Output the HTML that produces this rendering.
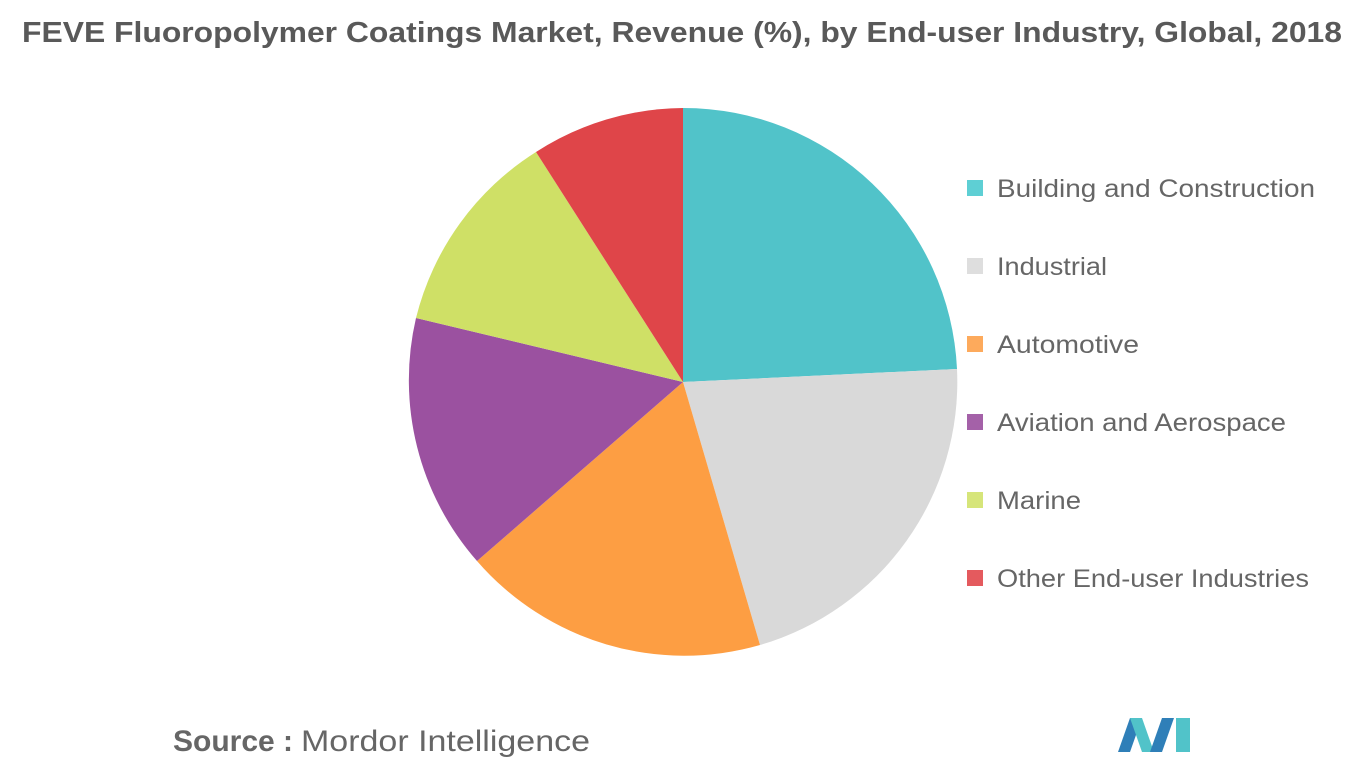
<!DOCTYPE html>
<html><head><meta charset="utf-8"><style>
body{margin:0;width:1366px;height:768px;background:#fff;overflow:hidden;font-family:"Liberation Sans",sans-serif;}
</style></head><body>
<svg width="1366" height="768" xmlns="http://www.w3.org/2000/svg">
<text x="22" y="42" textLength="1320" lengthAdjust="spacingAndGlyphs" font-family="Liberation Sans, sans-serif" font-weight="bold" font-size="29" fill="#595959">FEVE Fluoropolymer Coatings Market, Revenue (%), by End-user Industry, Global, 2018</text>
<g>
<path d="M683,382 L683,108 A274,274 0 0 1 957,369 Z" fill="#51c3c9"/>
<path d="M683,382 L957,369 A274,274 0 0 1 760,645 Z" fill="#d9d9d9"/>
<path d="M683,382 L760,645 A274,274 0 0 1 477,561 Z" fill="#fd9e43"/>
<path d="M683,382 L477,561 A274,274 0 0 1 416,318 Z" fill="#9b51a0"/>
<path d="M683,382 L416,318 A274,274 0 0 1 536,152 Z" fill="#cfe066"/>
<path d="M683,382 L536,152 A274,274 0 0 1 683,108 Z" fill="#df4549"/>
</g>
<g font-family="Liberation Sans, sans-serif" font-size="25" fill="#666" lengthAdjust="spacingAndGlyphs">
<rect x="967" y="180" width="16" height="16" fill="#5ecfd4"/><text x="997" y="197" textLength="318" lengthAdjust="spacingAndGlyphs">Building and Construction</text>
<rect x="967" y="258" width="16" height="16" fill="#dedede"/><text x="997" y="275" textLength="110" lengthAdjust="spacingAndGlyphs">Industrial</text>
<rect x="967" y="336" width="16" height="16" fill="#fdaa5c"/><text x="997" y="353" textLength="142" lengthAdjust="spacingAndGlyphs">Automotive</text>
<rect x="967" y="414" width="16" height="16" fill="#a461a8"/><text x="997" y="431" textLength="289" lengthAdjust="spacingAndGlyphs">Aviation and Aerospace</text>
<rect x="967" y="492" width="16" height="16" fill="#d6e57a"/><text x="997" y="509" textLength="84" lengthAdjust="spacingAndGlyphs">Marine</text>
<rect x="967" y="570" width="16" height="16" fill="#e45a5e"/><text x="997" y="587" textLength="312" lengthAdjust="spacingAndGlyphs">Other End-user Industries</text>
</g>
<text x="173" y="751" font-family="Liberation Sans, sans-serif" font-size="30" fill="#666" font-weight="bold">Source :</text>
<text x="301" y="751" textLength="289" lengthAdjust="spacingAndGlyphs" font-family="Liberation Sans, sans-serif" font-size="30" fill="#666">Mordor Intelligence</text>
<g>
<polygon points="1118,752 1130,718 1142,718 1130,752" fill="#2f7fb8"/>
<polygon points="1130,718 1142,718 1154,752 1142,752" fill="#51c3c9"/>
<polygon points="1150,752 1162,718 1174,718 1162,752" fill="#2f7fb8"/>
<polygon points="1176,718 1190,718 1190,752 1176,752" fill="#51c3c9"/>
</g>
</svg>
</body></html>
